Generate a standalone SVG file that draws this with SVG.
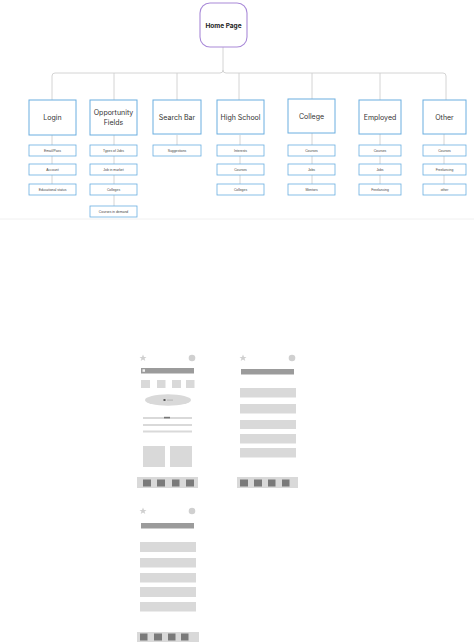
<svg xmlns="http://www.w3.org/2000/svg" width="474" height="642" viewBox="0 0 474 642">
<defs>
<style>
.bg{fill:#ffffff}
.conn{fill:none;stroke:#cfcfcf;stroke-width:0.9}
.main{fill:#ffffff;stroke:#6aaee0;stroke-width:1}
.sub{fill:#ffffff;stroke:#6aaee0;stroke-width:0.8}
.home{fill:#ffffff;stroke:#a98ad8;stroke-width:1.1}
.lbl{font-family:"Inter","Liberation Sans",sans-serif;font-size:7px;fill:#333333;text-anchor:middle}
.hl{font-family:"Inter","Liberation Sans",sans-serif;font-size:6.5px;font-weight:bold;fill:#222222;text-anchor:middle}
.sl{font-family:"Liberation Sans",sans-serif;font-size:3.4px;fill:#444444;text-anchor:middle}
.dark{fill:#9b9b9b}
.light{fill:#d9d9d9}
.ic{fill:#d0d0d0}
.sq{fill:#7a7a7a}
</style>
</defs>
<rect class="bg" x="0" y="0" width="474" height="642"/>
<line x1="0" y1="219" x2="474" y2="219" stroke="#ececec" stroke-width="0.8"/>

<g id="connectors">
<path class="conn" d="M223,47 V70 Q223,73 226,73 H443 Q446,73 446,76 V100"/>
<path class="conn" d="M223,70 Q223,73 220,73 H55 Q52,73 52,76 V100"/>
<path class="conn" d="M114,73 Q114,74 114,76 V100"/>
<path class="conn" d="M177,73 V100"/>
<path class="conn" d="M239,73 V100"/>
<path class="conn" d="M312,73 V99"/>
<path class="conn" d="M380,73 V100"/>
<line class="conn" x1="52" y1="135" x2="52" y2="184"/>
<line class="conn" x1="114" y1="135" x2="114" y2="206"/>
<line class="conn" x1="177" y1="135" x2="177" y2="145"/>
<line class="conn" x1="240" y1="135" x2="240" y2="184"/>
<line class="conn" x1="312" y1="133" x2="312" y2="184"/>
<line class="conn" x1="380" y1="134" x2="380" y2="184"/>
<line class="conn" x1="444" y1="134" x2="444" y2="184"/>
</g>

<g id="home">
<rect class="home" x="200" y="3" width="47" height="44" rx="10"/>
<text class="hl" x="223.5" y="27.5">Home Page</text>
</g>

<g id="login">
<rect class="main" x="29" y="100" width="47" height="35"/>
<text class="lbl" x="52.5" y="120">Login</text>
</g>
<g id="opportunity">
<rect class="main" x="90" y="100" width="47" height="35"/>
<text class="lbl" x="113.5" y="115">Opportunity</text>
<text class="lbl" x="113.5" y="125">Fields</text>
</g>
<g id="search">
<rect class="main" x="153" y="100" width="48" height="34"/>
<text class="lbl" x="177" y="119.5">Search Bar</text>
</g>
<g id="highschool">
<rect class="main" x="217" y="100" width="47" height="34"/>
<text class="lbl" x="240.5" y="119.5">High School</text>
</g>
<g id="college">
<rect class="main" x="288" y="99" width="47" height="34"/>
<text class="lbl" x="311.5" y="119">College</text>
</g>
<g id="employed">
<rect class="main" x="359" y="100" width="42" height="34"/>
<text class="lbl" x="380" y="119.5">Employed</text>
</g>
<g id="other">
<rect class="main" x="423" y="100" width="43" height="34"/>
<text class="lbl" x="444.5" y="119.5">Other</text>
</g>

<g id="login-subs">
<rect class="sub" x="29" y="145" width="47" height="11"/><text class="sl" x="52.5" y="151.8">Email/Pass</text>
<rect class="sub" x="29" y="164" width="47" height="11"/><text class="sl" x="52.5" y="170.8">Account</text>
<rect class="sub" x="29" y="184" width="47" height="11"/><text class="sl" x="52.5" y="190.8">Educational status</text>
</g>
<g id="opportunity-subs">
<rect class="sub" x="90" y="145" width="47" height="11"/><text class="sl" x="113.5" y="151.8">Types of Jobs</text>
<rect class="sub" x="90" y="164" width="47" height="11"/><text class="sl" x="113.5" y="170.8">Job in market</text>
<rect class="sub" x="90" y="184" width="47" height="11"/><text class="sl" x="113.5" y="190.8">Colleges</text>
<rect class="sub" x="90" y="206" width="47" height="11"/><text class="sl" x="113.5" y="212.8">Courses in demand</text>
</g>
<g id="search-subs">
<rect class="sub" x="153" y="145" width="48" height="11"/><text class="sl" x="177" y="151.8">Suggestions</text>
</g>
<g id="highschool-subs">
<rect class="sub" x="217" y="145" width="47" height="11"/><text class="sl" x="240.5" y="151.8">Interests</text>
<rect class="sub" x="217" y="164" width="47" height="11"/><text class="sl" x="240.5" y="170.8">Courses</text>
<rect class="sub" x="217" y="184" width="47" height="11"/><text class="sl" x="240.5" y="190.8">Colleges</text>
</g>
<g id="college-subs">
<rect class="sub" x="288" y="145" width="47" height="11"/><text class="sl" x="311.5" y="151.8">Courses</text>
<rect class="sub" x="288" y="164" width="47" height="11"/><text class="sl" x="311.5" y="170.8">Jobs</text>
<rect class="sub" x="288" y="184" width="47" height="11"/><text class="sl" x="311.5" y="190.8">Mentors</text>
</g>
<g id="employed-subs">
<rect class="sub" x="359" y="145" width="42" height="11"/><text class="sl" x="380" y="151.8">Courses</text>
<rect class="sub" x="359" y="164" width="42" height="11"/><text class="sl" x="380" y="170.8">Jobs</text>
<rect class="sub" x="359" y="184" width="42" height="11"/><text class="sl" x="380" y="190.8">Freelancing</text>
</g>
<g id="other-subs">
<rect class="sub" x="423" y="145" width="43" height="11"/><text class="sl" x="444.5" y="151.8">Courses</text>
<rect class="sub" x="423" y="164" width="43" height="11"/><text class="sl" x="444.5" y="170.8">Freelancing</text>
<rect class="sub" x="423" y="184" width="43" height="11"/><text class="sl" x="444.5" y="190.8">other</text>
</g>

<g id="screen1">
<polygon class="ic" points="143,354.5 144,357 146.5,357 144.5,358.6 145.3,361 143,359.6 140.7,361 141.5,358.6 139.5,357 142,357"/>
<circle class="ic" cx="192" cy="358" r="3.3"/>
<rect class="dark" x="141" y="368" width="53" height="5.5"/>
<rect x="142.5" y="369.3" width="2.5" height="2.5" fill="#f2f2f2"/>
<rect class="light" x="141" y="380" width="9" height="8"/>
<rect class="light" x="157" y="380" width="8.5" height="8"/>
<rect class="light" x="172" y="380" width="9" height="8"/>
<rect class="light" x="186" y="380" width="8.5" height="8"/>
<ellipse class="light" cx="168" cy="400" rx="23" ry="5.8"/>
<rect x="163.5" y="399" width="2" height="2" fill="#555"/>
<circle cx="168" cy="400" r="0.5" fill="#777"/><circle cx="170" cy="400" r="0.5" fill="#777"/><circle cx="172" cy="400" r="0.5" fill="#777"/>
<rect class="light" x="143" y="417" width="49" height="2"/>
<rect x="164" y="416.8" width="6" height="1.6" fill="#777"/>
<rect class="light" x="143" y="424" width="49" height="2"/>
<rect class="light" x="143" y="430.5" width="49" height="2"/>
<rect class="light" x="143" y="446" width="22" height="21"/>
<rect class="light" x="170" y="446" width="22" height="21"/>
<rect class="light" x="137" y="477" width="61" height="11"/>
<rect class="sq" x="143" y="479.5" width="8" height="7"/>
<rect class="sq" x="157" y="479.5" width="8" height="7"/>
<rect class="sq" x="172" y="479.5" width="7.5" height="7"/>
<rect class="sq" x="186" y="479.5" width="8" height="7"/>
</g>

<g id="screen2">
<polygon class="ic" points="243,354.5 244,357 246.5,357 244.5,358.6 245.3,361 243,359.6 240.7,361 241.5,358.6 239.5,357 242,357"/>
<circle class="ic" cx="292" cy="358" r="3.3"/>
<rect class="dark" x="241" y="369" width="53" height="5.5"/>
<rect class="light" x="240" y="388" width="56" height="9.5"/>
<rect class="light" x="240" y="404" width="56" height="9.5"/>
<rect class="light" x="240" y="420" width="56" height="9"/>
<rect class="light" x="240" y="434" width="56" height="9.5"/>
<rect class="light" x="240" y="448" width="56" height="9.5"/>
<rect class="light" x="237" y="477" width="61" height="11"/>
<rect class="sq" x="240" y="479.5" width="8" height="7"/>
<rect class="sq" x="254" y="479.5" width="8" height="7"/>
<rect class="sq" x="268" y="479.5" width="7.5" height="7"/>
<rect class="sq" x="282" y="479.5" width="7.5" height="7"/>
</g>

<g id="screen3">
<polygon class="ic" points="143,507.5 144,510 146.5,510 144.5,511.6 145.3,514 143,512.6 140.7,514 141.5,511.6 139.5,510 142,510"/>
<circle class="ic" cx="192" cy="511" r="3.3"/>
<rect class="dark" x="141" y="523" width="53" height="5.5"/>
<rect class="light" x="140" y="542" width="56" height="10"/>
<rect class="light" x="140" y="558" width="56" height="9.5"/>
<rect class="light" x="140" y="573" width="56" height="9.5"/>
<rect class="light" x="140" y="587" width="56" height="10"/>
<rect class="light" x="140" y="602" width="56" height="9.5"/>
<rect class="light" x="137" y="632" width="62" height="11"/>
<rect class="sq" x="140" y="633.5" width="7.5" height="7"/>
<rect class="sq" x="154" y="633.5" width="8" height="7"/>
<rect class="sq" x="168" y="633.5" width="7.5" height="7"/>
<rect class="sq" x="181" y="633.5" width="7.5" height="7"/>
</g>
</svg>
